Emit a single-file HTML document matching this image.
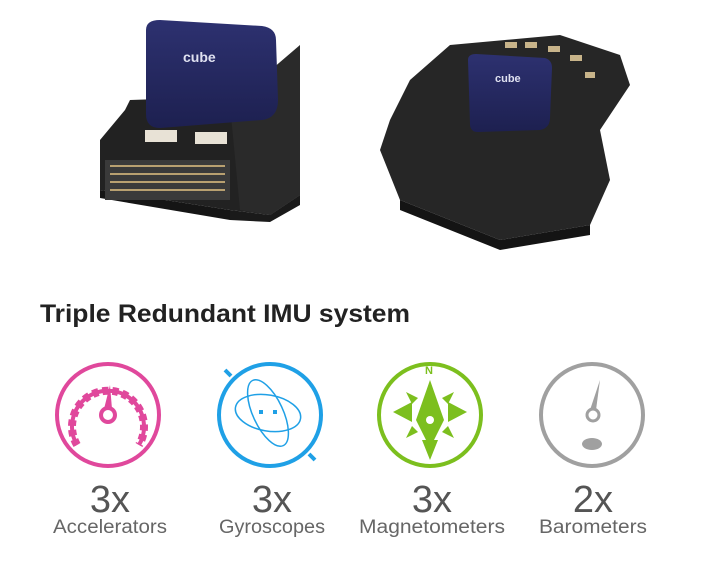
<!DOCTYPE html>
<html><head><meta charset="utf-8"><style>
html,body{margin:0;padding:0;background:#fff;width:705px;height:561px;overflow:hidden}
svg{display:block}
text{font-family:"Liberation Sans",sans-serif}
</style></head><body>
<svg width="705" height="561" viewBox="0 0 705 561">
<defs>
<linearGradient id="cb" x1="0" y1="0" x2="0" y2="1"><stop offset="0" stop-color="#2d3170"/><stop offset="1" stop-color="#1d2050"/></linearGradient>
</defs>
<!-- left device -->
<polygon points="130,100 280,95 300,45 300,195 270,215 230,210 100,190 100,140 125,110" fill="#222"/>
<polygon points="100,190 230,210 230,220 100,198" fill="#151515"/>
<polygon points="230,210 270,215 300,195 300,205 270,222 230,220" fill="#1a1a1a"/>
<polygon points="230,105 300,45 300,195 270,215 240,210" fill="#2a2a2a"/>
<rect x="105" y="160" width="125" height="40" fill="#3a3a3a"/>
<g fill="#b8a070">
<rect x="110" y="165" width="115" height="2"/><rect x="110" y="173" width="115" height="2"/><rect x="110" y="181" width="115" height="2"/><rect x="110" y="189" width="115" height="2"/>
</g>
<rect x="145" y="130" width="32" height="12" fill="#e8e2d6"/>
<rect x="195" y="132" width="32" height="12" fill="#e8e2d6"/>
<path d="M146,30 Q146,20 160,20 L262,26 Q276,28 276,40 L278,100 Q278,118 262,120 L160,128 Q146,128 146,114 Z" fill="url(#cb)"/>
<text x="183" y="62" font-size="14" fill="#dfe1f0" font-weight="bold">cube</text>
<!-- right device -->
<polygon points="410,80 450,45 560,35 620,55 630,85 600,130 610,180 590,225 500,240 400,200 380,150 390,120" fill="#262626"/>
<polygon points="400,200 500,240 590,225 590,235 500,250 400,210" fill="#141414"/>
<g fill="#c8b48a">
<rect x="505" y="42" width="12" height="6"/><rect x="525" y="42" width="12" height="6"/><rect x="548" y="46" width="12" height="6"/><rect x="570" y="55" width="12" height="6"/><rect x="585" y="72" width="10" height="6"/>
</g>
<path d="M468,60 Q468,54 476,54 L545,58 Q552,60 552,68 L550,118 Q550,128 540,130 L478,132 Q470,132 470,124 Z" fill="url(#cb)"/>
<text x="495" y="82" font-size="11" fill="#dfe1f0" font-weight="bold">cube</text>
<!-- title -->
<text x="40" y="322" font-size="25" fill="#222" font-weight="bold" textLength="370" lengthAdjust="spacingAndGlyphs">Triple Redundant IMU system</text>
<!-- pink -->
<g fill="none" stroke="#e0489c">
<circle cx="108" cy="415" r="51" stroke-width="4"/>
<path d="M77,445 A36,36 0 1 1 139,445" stroke-width="8" stroke-dasharray="6,4"/>
<path d="M77,445 A36,36 0 1 1 139,445" stroke-width="4" transform="translate(0,0)"/>
<circle cx="108" cy="415" r="7" stroke-width="4"/>
</g>
<polygon points="104,409 112,409 110,385" fill="#e0489c"/>
<!-- blue -->
<g fill="none" stroke="#1fa0e6">
<circle cx="270" cy="415" r="51" stroke-width="4"/>
<line x1="225" y1="370" x2="231" y2="376" stroke-width="4"/>
<line x1="309" y1="454" x2="315" y2="460" stroke-width="4"/>
<ellipse cx="268" cy="413" rx="33" ry="18" transform="rotate(10 268 413)" stroke-width="1.5"/>
<ellipse cx="268" cy="413" rx="15" ry="36" transform="rotate(-25 268 413)" stroke-width="1.5"/>
</g>
<rect x="259" y="410" width="4" height="4" fill="#1fa0e6"/><rect x="273" y="410" width="4" height="4" fill="#1fa0e6"/>
<!-- green -->
<g fill="#7cbf1e">
<circle cx="430" cy="415" r="51" fill="none" stroke="#7cbf1e" stroke-width="4"/>
<text x="425" y="374" font-size="11" font-weight="bold">N</text>
<polygon points="430,380 444,420 430,448 416,420"/>
<polygon points="393,412 412,402 412,422"/><polygon points="467,412 448,402 448,422"/>
<polygon points="430,460 422,440 438,440"/>
<polygon points="406,392 418,398 412,404"/><polygon points="454,392 442,398 448,404"/>
<polygon points="406,438 418,432 412,426"/><polygon points="454,438 442,432 448,426"/>
<circle cx="430" cy="420" r="4" fill="#fff"/>
</g>
<!-- gray -->
<g fill="#a0a0a0">
<circle cx="592" cy="415" r="51" fill="none" stroke="#a0a0a0" stroke-width="4"/>
<polygon points="600,380 596,410 590,410"/>
<circle cx="593" cy="415" r="6" fill="none" stroke="#a0a0a0" stroke-width="3"/>
<ellipse cx="592" cy="444" rx="10" ry="6"/>
</g>
<!-- labels -->
<g fill="#555" text-anchor="middle">
<text x="110" y="512" font-size="38">3x</text>
<text x="272" y="512" font-size="38">3x</text>
<text x="432" y="512" font-size="38">3x</text>
<text x="593" y="512" font-size="38">2x</text>
<g font-size="19" fill="#666">
<text x="110" y="533" textLength="114" lengthAdjust="spacingAndGlyphs">Accelerators</text>
<text x="272" y="533" textLength="106" lengthAdjust="spacingAndGlyphs">Gyroscopes</text>
<text x="432" y="533" textLength="146" lengthAdjust="spacingAndGlyphs">Magnetometers</text>
<text x="593" y="533" textLength="108" lengthAdjust="spacingAndGlyphs">Barometers</text>
</g>
</g>
</svg>
</body></html>
